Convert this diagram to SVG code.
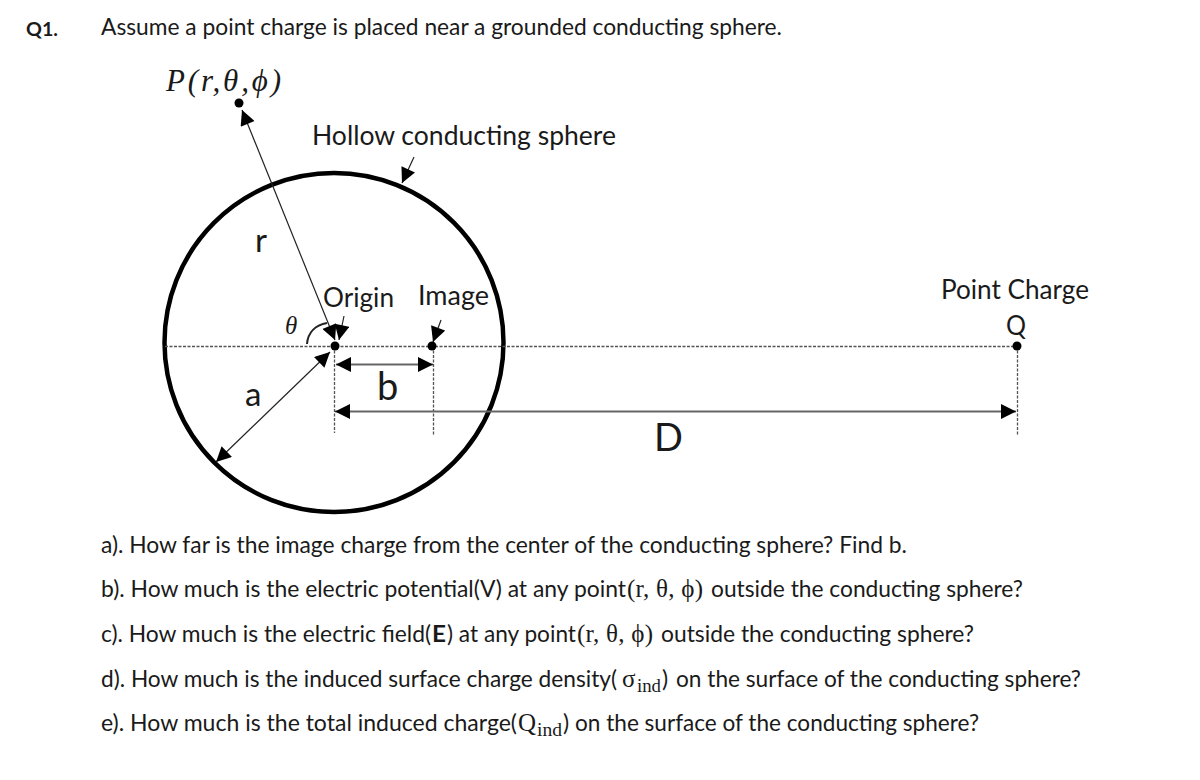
<svg xmlns="http://www.w3.org/2000/svg" width="1200" height="780" viewBox="0 0 1200 780">
<defs>
<marker id="ah" viewBox="0 0 10 10" refX="10" refY="5" markerWidth="16" markerHeight="15" markerUnits="userSpaceOnUse" orient="auto-start-reverse"><path d="M0 0L10 5L0 10Z" fill="#000"/></marker>
</defs>
<style>
text{font-family:"Lato","Liberation Sans",sans-serif;fill:#1a1a1a}
.q{font-size:23px}
.l{font-size:26px}
.m{font-family:"Liberation Serif",serif;font-style:italic}
.s{font-family:"Liberation Serif",serif;font-size:25px}
.i{font-family:"Liberation Serif",serif;font-size:18px}
.c{fill:none;stroke:#222;stroke-width:1.2}
.g{fill:none;stroke:#666;stroke-width:1.8}
.d{fill:none;stroke:#555;stroke-width:1.3;stroke-dasharray:3 1.5}
.dot{fill:#000}
</style>
<rect width="1200" height="780" fill="#fff"/>
<text id="qnum" x="26" y="36" font-size="19" font-weight="700" font-family="Liberation Sans, sans-serif" textLength="32" lengthAdjust="spacingAndGlyphs">Q1.</text>
<text id="intro" class="q" x="101" y="35" textLength="681" lengthAdjust="spacingAndGlyphs">Assume a point charge is placed near a grounded conducting sphere.</text>
<g id="sphere"><circle cx="334" cy="342.5" r="169.500" fill="none" stroke="#000" stroke-width="4.500"/></g>
<g id="connectors">
<path class="d" d="M165 346.500H1017"/>
<path class="d" d="M334.500 346V433M433.500 346V435M1017.500 346V435"/>
<path class="c" d="M335 340L242 110" marker-start="url(#ah)" marker-end="url(#ah)"/>
<path class="c" d="M414 157L402 183" marker-end="url(#ah)"/>
<path class="c" d="M344 316L339 340" marker-end="url(#ah)"/>
<path class="c" d="M441 320L433 342" marker-end="url(#ah)"/>
<path d="M307 344C308 332 316 325 327 323" fill="none" stroke="#222" stroke-width="2"/>
<path class="c" d="M330 352L216 462" marker-start="url(#ah)" marker-end="url(#ah)"/>
<path class="g" d="M336 364.500H433" marker-start="url(#ah)" marker-end="url(#ah)"/>
<path class="g" d="M335 411.500H1016" marker-start="url(#ah)" marker-end="url(#ah)"/>
</g>
<g id="point-p"><circle class="dot" cx="239" cy="103" r="4.500"/><text class="m" x="166" y="91" font-size="31" textLength="115">P(r,θ,ϕ)</text></g>
<g id="origin"><circle class="dot" cx="335" cy="346" r="4.500"/><text x="323" y="307" class="l" textLength="71" lengthAdjust="spacingAndGlyphs">Origin</text></g>
<g id="image"><circle class="dot" cx="432" cy="346" r="4.500"/><text x="418" y="305" class="l" textLength="71" lengthAdjust="spacingAndGlyphs">Image</text></g>
<g id="charge"><circle class="dot" cx="1017" cy="346" r="4.500"/><text x="941" y="299" class="l" textLength="148" lengthAdjust="spacingAndGlyphs">Point Charge</text><text x="1006" y="335" class="l" textLength="20" lengthAdjust="spacingAndGlyphs">Q</text></g>
<text id="hollow" x="312" y="145" font-size="27" textLength="304" lengthAdjust="spacingAndGlyphs">Hollow conducting sphere</text>
<text id="lr" x="255" y="252" font-size="33">r</text>
<text id="lt" class="m" x="285" y="334" font-size="25">θ</text>
<text id="la" x="245" y="406" font-size="33">a</text>
<text id="lb" x="377" y="400" font-size="38">b</text>
<text id="lD" x="654" y="451" font-size="38">D</text>
<text class="q" x="101" y="553" textLength="806" lengthAdjust="spacingAndGlyphs">a). How far is the image charge from the center of the conducting sphere? Find b.</text>
<text class="q" x="101" y="597" textLength="525" lengthAdjust="spacingAndGlyphs">b). How much is the electric potential(V) at any point</text>
<text class="s" x="627" y="597" textLength="76">(r, θ, ϕ)</text>
<text class="q" x="711" y="597" textLength="312" lengthAdjust="spacingAndGlyphs">outside the conducting sphere?</text>
<text class="q" x="101" y="642" textLength="330" lengthAdjust="spacingAndGlyphs">c). How much is the electric field(</text>
<text class="q" x="432" y="642" font-weight="700" textLength="14" lengthAdjust="spacingAndGlyphs">E</text>
<text class="q" x="447" y="642" textLength="129" lengthAdjust="spacingAndGlyphs">) at any point</text>
<text class="s" x="577" y="642" textLength="76">(r, θ, ϕ)</text>
<text class="q" x="661" y="642" textLength="313" lengthAdjust="spacingAndGlyphs">outside the conducting sphere?</text>
<text class="q" x="101" y="687" textLength="516" lengthAdjust="spacingAndGlyphs">d). How much is the induced surface charge density(</text>
<text class="s" x="622" y="687">σ</text>
<text class="i" x="637" y="692" textLength="24" lengthAdjust="spacingAndGlyphs">ind</text>
<text class="q" x="662" y="687">)</text>
<text class="q" x="676" y="687" textLength="405" lengthAdjust="spacingAndGlyphs">on the surface of the conducting sphere?</text>
<text class="q" x="101" y="731" textLength="416" lengthAdjust="spacingAndGlyphs">e). How much is the total induced charge(</text>
<text class="s" x="518" y="731">Q</text>
<text class="i" x="537" y="736" textLength="25" lengthAdjust="spacingAndGlyphs">ind</text>
<text class="q" x="563" y="731">)</text>
<text class="q" x="575" y="731" textLength="404" lengthAdjust="spacingAndGlyphs">on the surface of the conducting sphere?</text>
</svg>
